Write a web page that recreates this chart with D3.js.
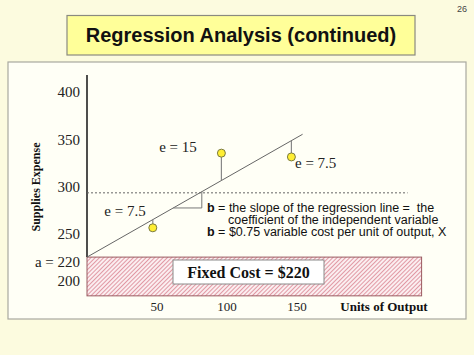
<!DOCTYPE html>
<html><head><meta charset="utf-8">
<script src="https://cdn.jsdelivr.net/npm/d3@7"></script>
<style>html,body{margin:0;padding:0;background:#fcfbdf;}svg{display:block;}</style>
</head><body>
<svg id="c" width="474" height="355"></svg>
<script>
// ---- data ----
const yTickValues = [400, 350, 300, 250, 220, 200];
const yTickLabels = ["400", "350", "300", "250", "a = 220", "200"];
const xTickValues = [50, 100, 150];
const xTickLabels = ["50", "100", "150"];
const lineX = [0, 154];          // regression line endpoints (units)
const lineY = [220, 350];        // regression line endpoints ($)
const pointX = [47, 96, 146];
const pointY = [251, 330, 326];
const errLabels = ["e = 7.5", "e = 15", "e = 7.5"];
const fixedCost = 220;
const fixedBottom = 179;
const fixedRight = 239;
const dashedY = 288;
const dashedRight = 229;
const slopeTri = {x0: 61.6, x1: 82, y0: 272};
const bText = ["the slope of the regression line =\u00a0 the", "coefficient of the independent variable", "$0.75 variable cost per unit of output, X"];

const svg = d3.select("#c");
const x = d3.scaleLinear().domain([0, 150]).range([87, 297]);
const y = d3.scaleLinear().domain([200, 400]).range([276, 87]);
const slope = (lineY[1] - lineY[0]) / (lineX[1] - lineX[0]);
const lineAt = v => lineY[0] + slope * v;

// page number
svg.append("text").attr("x", 467).attr("y", 12).attr("text-anchor", "end")
  .attr("font-family", "Liberation Sans, Arial").attr("font-size", 9).attr("fill", "#444").text("26");

// title
svg.append("rect").attr("x", 67).attr("y", 15.5).attr("width", 348).attr("height", 39.5)
  .attr("fill", "#ffff99").attr("stroke", "#8a8a80").attr("stroke-width", 1.2);
svg.append("text").attr("x", 241).attr("y", 42).attr("text-anchor", "middle")
  .attr("font-family", "Liberation Sans, Arial").attr("font-weight", "bold").attr("font-size", 20)
  .attr("fill", "#111").text("Regression Analysis (continued)");

// panel
svg.append("rect").attr("x", 8).attr("y", 62).attr("width", 458).attr("height", 257)
  .attr("fill", "#fffff6").attr("stroke", "#a8a8a0").attr("stroke-width", 1.2);

// hatch pattern
const defs = svg.append("defs");
const pat = defs.append("pattern").attr("id", "hatch").attr("patternUnits", "userSpaceOnUse")
  .attr("width", 3).attr("height", 3).attr("patternTransform", "rotate(45)");
pat.append("rect").attr("width", 3).attr("height", 3).attr("fill", "#fbeef0");
pat.append("line").attr("x1", 0).attr("y1", 0).attr("x2", 0).attr("y2", 3)
  .attr("stroke", "#d67483").attr("stroke-width", 1.4);

// fixed cost rect
svg.append("rect").attr("x", x(0)).attr("y", y(fixedCost))
  .attr("width", x(fixedRight) - x(0)).attr("height", y(fixedBottom) - y(fixedCost))
  .attr("fill", "url(#hatch)").attr("stroke", "#9a5a60").attr("stroke-width", 1);

svg.append("rect").attr("x", 173).attr("y", 260).attr("width", 151).attr("height", 24)
  .attr("fill", "#ffffff").attr("stroke", "#8a8a8a").attr("stroke-width", 1);
svg.append("text").attr("x", 248.5).attr("y", 277.5).attr("text-anchor", "middle")
  .attr("font-family", "Liberation Serif, Times New Roman").attr("font-weight", "bold").attr("font-size", 16)
  .attr("fill", "#111").text("Fixed Cost = $" + fixedCost);

// y axis line
svg.append("line").attr("x1", x(0)).attr("x2", x(0)).attr("y1", 75).attr("y2", y(fixedCost))
  .attr("stroke", "#222").attr("stroke-width", 1.6);

// y tick labels
svg.append("g").selectAll("text").data(yTickValues).join("text")
  .attr("x", 80).attr("y", d => y(d) + 5).attr("dy", "0.35em").attr("text-anchor", "end")
  .attr("font-family", "Liberation Serif, Times New Roman").attr("font-size", 15).attr("fill", "#222")
  .text((d, i) => yTickLabels[i]);

// x tick labels
svg.append("g").selectAll("text").data(xTickValues).join("text")
  .attr("x", d => x(d)).attr("y", 306).attr("dy", "0.35em").attr("text-anchor", "middle")
  .attr("font-family", "Liberation Serif, Times New Roman").attr("font-size", 13).attr("fill", "#222")
  .text((d, i) => xTickLabels[i]);

svg.append("text").attr("x", 384).attr("y", 306).attr("dy", "0.35em").attr("text-anchor", "middle")
  .attr("font-family", "Liberation Serif, Times New Roman").attr("font-weight", "bold").attr("font-size", 13)
  .attr("fill", "#111").text("Units of Output");

svg.append("text").attr("transform", "translate(36,187) rotate(-90)").attr("dy", "0.35em")
  .attr("text-anchor", "middle").attr("font-family", "Liberation Serif, Times New Roman")
  .attr("font-weight", "bold").attr("font-size", 12).attr("fill", "#111").text("Supplies Expense");

// dashed line
svg.append("line").attr("x1", x(0)).attr("x2", x(dashedRight)).attr("y1", y(dashedY)).attr("y2", y(dashedY))
  .attr("stroke", "#666").attr("stroke-width", 1).attr("stroke-dasharray", "2,2");

// regression line
svg.append("line").attr("x1", x(lineX[0])).attr("y1", y(lineY[0])).attr("x2", x(lineX[1])).attr("y2", y(lineY[1]))
  .attr("stroke", "#666").attr("stroke-width", 1);

// slope triangle
svg.append("path")
  .attr("d", `M${x(slopeTri.x0)},${y(slopeTri.y0)}H${x(slopeTri.x1)}V${y(lineAt(slopeTri.x1))}`)
  .attr("fill", "none").attr("stroke", "#777").attr("stroke-width", 1);

// stems and points
const pts = pointX.map((v, i) => ({x: v, y: pointY[i]}));
svg.append("g").selectAll("line").data(pts).join("line")
  .attr("x1", d => x(d.x)).attr("x2", d => x(d.x)).attr("y1", d => y(d.y)).attr("y2", d => y(lineAt(d.x)))
  .attr("stroke", "#888").attr("stroke-width", 1.2);
svg.append("g").selectAll("circle").data(pts).join("circle")
  .attr("cx", d => x(d.x)).attr("cy", d => y(d.y)).attr("r", 4)
  .attr("fill", "#ffee33").attr("stroke", "#7a7a40").attr("stroke-width", 1);

// e labels
const labPos = [{x: 125, y: 211, a: "middle"}, {x: 178, y: 147, a: "middle"}, {x: 295, y: 163, a: "start"}];
svg.append("g").selectAll("text").data(errLabels).join("text")
  .attr("x", (d, i) => labPos[i].x).attr("y", (d, i) => labPos[i].y).attr("dy", "0.35em")
  .attr("text-anchor", (d, i) => labPos[i].a)
  .attr("font-family", "Liberation Serif, Times New Roman").attr("font-size", 15).attr("fill", "#222")
  .text(d => d);

// b explanation
const bt = svg.append("g").attr("font-family", "Liberation Sans, Arial").attr("font-size", 12.5)
  .attr("fill", "#111");
const t1 = bt.append("text").attr("x", 207).attr("y", 208).attr("dy", "0.35em");
t1.append("tspan").attr("font-weight", "bold").text("b");
t1.append("tspan").text(" = " + bText[0]);
bt.append("text").attr("x", 228).attr("y", 220).attr("dy", "0.35em").text(bText[1]);
const t3 = bt.append("text").attr("x", 207).attr("y", 232).attr("dy", "0.35em");
t3.append("tspan").attr("font-weight", "bold").text("b");
t3.append("tspan").text(" = " + bText[2]);
</script>
</body></html>
